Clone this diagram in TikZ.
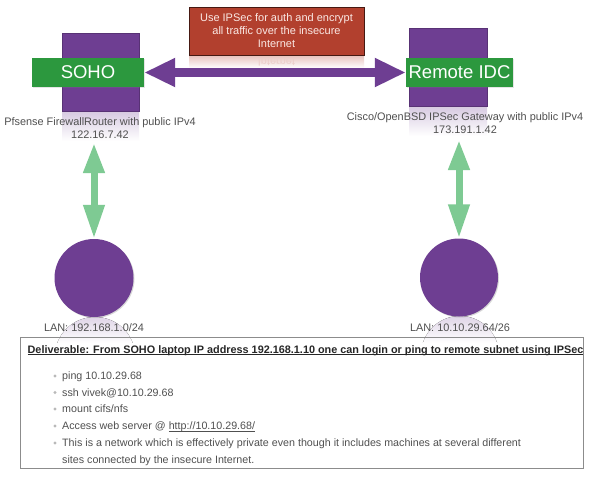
\documentclass[tikz,border=0pt]{standalone}
\usepackage{fontspec}
\setmainfont{Liberation Sans}
\usetikzlibrary{arrows.meta,shadows,shapes.geometric}
\definecolor{purp}{RGB}{110,62,146}
\definecolor{grn}{RGB}{44,152,62}
\definecolor{lgrn}{RGB}{126,202,147}
\definecolor{redbox}{RGB}{178,64,46}
\definecolor{redborder}{RGB}{70,25,18}
\definecolor{redtxt}{RGB}{250,232,228}
\definecolor{txtgray}{RGB}{80,80,80}
\definecolor{boxgray}{RGB}{140,140,140}
\definecolor{bulgray}{RGB}{185,185,185}
\newcommand\myul[1]{\setbox0\hbox{#1}\rlap{\rule[-2pt]{\wd0}{0.75pt}}\box0}
\tikzset{
  sq/.style={fill=purp, draw=purp!80!black, line width=0.4pt, inner sep=0pt,
    drop shadow={opacity=0.2, shadow xshift=1pt, shadow yshift=-1pt}},
  gbar/.style={fill=grn, inner sep=0pt, text=white,
    font=\fontsize{18.5}{20}\selectfont,
    drop shadow={opacity=0.2, shadow xshift=1pt, shadow yshift=-1pt}},
  lan/.style={ellipse, fill=purp, inner sep=0pt, minimum width=79pt, minimum height=78pt,
    drop shadow={opacity=0.3, shadow xshift=1pt, shadow yshift=-1pt}},
  lbl/.style={text=txtgray, align=center, inner sep=0pt,
    font=\fontsize{10.9}{13}\selectfont},
  parrow/.style={draw=purp, line width=8.5pt,
    {Triangle[length=31pt,width=27pt]}-{Triangle[length=31pt,width=27pt]}},
  garrow/.style={draw=lgrn, line width=7pt,
    {Triangle[length=30pt,width=20pt]}-{Triangle[length=34pt,width=20pt]}},
  itemtxt/.style={anchor=base west, inner sep=0pt, text=txtgray,
    font=\fontsize{10.7}{13}\selectfont},
  bul/.style={circle, fill=bulgray, inner sep=0pt, minimum size=3.2pt},
}
\begin{document}
\begin{tikzpicture}[x=1pt,y=-1pt]
\useasboundingbox[fill=white] (0,0) rectangle (598,477);

% reflections
\fill[top color=purp!28, bottom color=white, draw=none] (62,111) rectangle (139,141);
\fill[top color=purp!28, bottom color=white, draw=none] (409,106) rectangle (487,136);
\fill[top color=redbox!30, bottom color=white, draw=none] (189,56) rectangle (364,68);
\node[text=redbox!25, inner sep=0pt, font=\fontsize{11}{13}\selectfont] (refl) at (276.5,62) {\scalebox{1}[-1]{Internet}};
\begin{scope}
  \clip (50,317) rectangle (140,343);
  \clip (95,356) ellipse (40 and 39);
  \fill[top color=purp!22, bottom color=white] (50,317) rectangle (140,343);
\end{scope}
\begin{scope}
  \clip (415,316) rectangle (505,343);
  \clip (460,355) ellipse (39 and 39);
  \fill[top color=purp!22, bottom color=white] (415,316) rectangle (505,343);
\end{scope}

% gateways
\node[sq, minimum width=77pt, minimum height=78pt] (sohosq) at (100.5,72) {};
\node[sq, minimum width=78pt, minimum height=78pt] (idcsq) at (448,67) {};
\node[gbar, minimum width=112pt, minimum height=29pt] (soho) at (88,72.5) {SOHO};
\node[gbar, minimum width=107pt, minimum height=29pt] (idc) at (459.5,72.5) {Remote IDC};

% IPSec note
\node[fill=redbox, draw=redborder, line width=0.8pt, minimum width=175pt, minimum height=48pt,
  inner sep=0pt, text=redtxt, align=center, font=\fontsize{11}{13}\selectfont] (note) at (276.5,31)
  {Use IPSec for auth and encrypt\\all traffic over the insecure\\Internet};

% tunnel
\draw[parrow] (soho.east) -- (idc.west);

% labels
\node[lbl] (sohol) at (100,128.5) {Pfsense FirewallRouter with public IPv4\\122.16.7.42};
\node[lbl] (idcl) at (465,123) {Cisco/OpenBSD IPSec Gateway with public IPv4\\173.191.1.42};

% LANs
\node[lan] (lan1) at (94,278) {};
\node[lan, minimum width=78pt] (lan2) at (459,277.5) {};
\node[lbl] (lan1l) at (94,328) {LAN: 192.168.1.0/24};
\node[lbl] (lan2l) at (460,328) {LAN: 10.10.29.64/26};

\coordinate (t1) at (94,143);
\coordinate (t2) at (459,140);
\draw[garrow] (t1) -- (lan1.north);
\draw[garrow] (t2) -- (lan2.north);

% deliverable box
\node[draw=boxgray, line width=0.7pt, anchor=north west, minimum width=563pt, minimum height=131pt, inner sep=0pt] (box) at (20,337) {};
\node[inner sep=0pt, anchor=base, text=black!85, font=\bfseries\fontsize{10.85}{12}\selectfont] (title) at (305.5,353)
  {\myul{Deliverable: From SOHO laptop IP address 192.168.1.10 one can login or ping to remote subnet using IPSec}};

\node[bul] (b1) at (55,376) {};
\node[bul] (b2) at (55,392.5) {};
\node[bul] (b3) at (55,409) {};
\node[bul] (b4) at (55,426) {};
\node[bul] (b5) at (55,443) {};
\node[itemtxt] (i1) at (62,379.5) {ping 10.10.29.68};
\node[itemtxt] (i2) at (62,396) {ssh vivek@10.10.29.68};
\node[itemtxt] (i3) at (62,412.5) {mount cifs/nfs};
\node[itemtxt] (i4) at (62,429.5) {Access web server @ \myul{http://10.10.29.68/}};
\node[itemtxt] (i5) at (62,446.5) {This is a network which is effectively private even though it includes machines at several different};
\node[itemtxt] (i6) at (62,463) {sites connected by the insecure Internet.};
\end{tikzpicture}
\end{document}
